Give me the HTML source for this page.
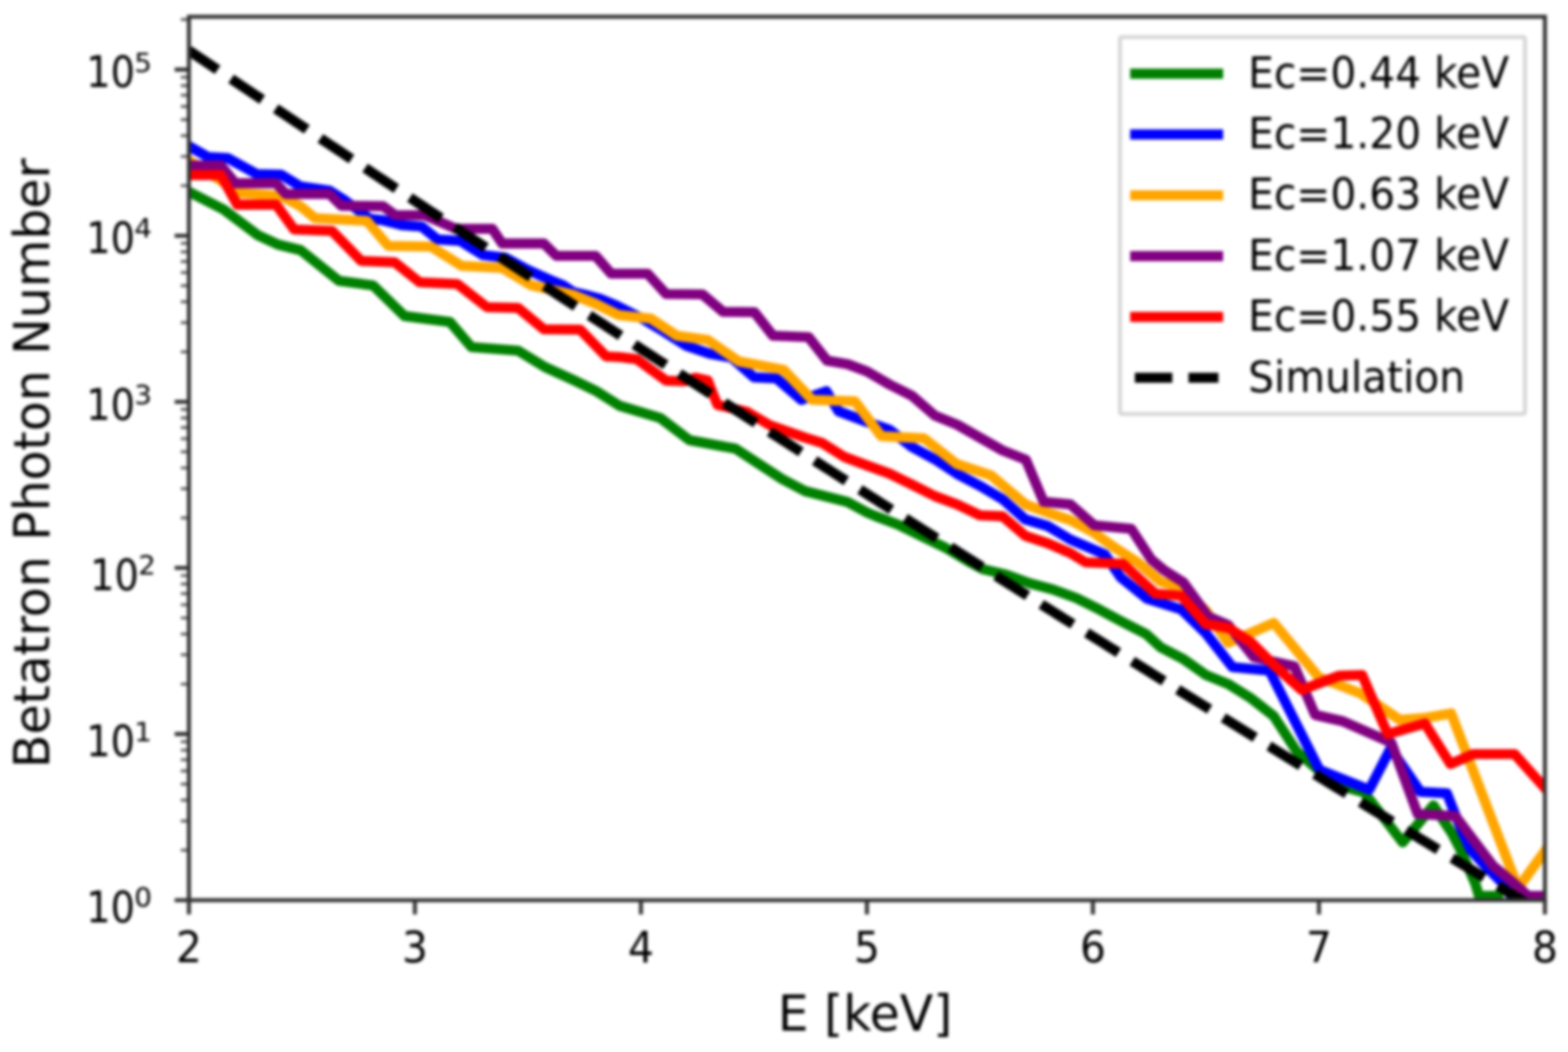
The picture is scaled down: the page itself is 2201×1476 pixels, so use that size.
<!DOCTYPE html>
<html><head><meta charset="utf-8"><title>Betatron Photon Number</title>
<style>html,body{margin:0;padding:0;background:#fff;width:2201px;height:1476px;overflow:hidden}svg{display:block;filter:blur(2px)}</style>
</head><body>
<svg width="2201" height="1476" viewBox="0 0 2201 1476">
<rect x="0" y="0" width="2201" height="1476" fill="#ffffff"/>
<defs><clipPath id="ax"><rect x="265.2" y="23.5" width="1903.3999999999999" height="1239.5"/></clipPath></defs>
<g clip-path="url(#ax)" fill="none" stroke-width="14.2" stroke-linejoin="round" stroke-linecap="square">
<polyline stroke="#008000" points="265.0,269.0 314.0,294.0 362.0,330.0 390.0,343.0 422.0,351.0 475.8,394.0 523.8,400.5 567.7,443.4 631.5,451.7 661.8,487.0 727.2,492.0 765.0,515.0 804.5,533.0 836.2,548.3 870.0,569.4 926.9,586.5 967.6,617.4 1032.6,629.6 1097.6,672.0 1130.0,689.0 1190.0,704.4 1216.9,719.0 1228.8,724.0 1261.3,736.3 1293.8,752.5 1326.3,768.0 1358.9,787.5 1380.0,798.7 1412.7,806.3 1445.4,818.3 1478.1,827.1 1510.9,839.1 1543.6,855.4 1576.3,872.9 1609.0,889.8 1629.3,908.3 1661.0,924.6 1692.7,947.0 1724.5,960.0 1756.2,979.8 1787.9,1004.6 1820.0,1054.0 1851.0,1081.0 1883.0,1103.0 1915.0,1112.0 1969.0,1182.0 2012.0,1130.0 2038.0,1169.0 2050.0,1192.0 2071.0,1240.0 2076.0,1257.0 2103.0,1257.0 2110.0,1340.0"/>
<polyline stroke="#0000ff" points="265.0,205.0 292.3,220.4 319.5,221.8 360.4,244.3 394.5,245.0 421.7,261.6 462.6,267.5 483.1,280.4 519.0,307.0 537.6,309.0 565.0,316.0 592.0,318.0 614.2,336.0 645.9,337.9 677.6,357.8 709.3,361.6 741.0,378.7 772.8,393.0 790.0,400.0 805.0,410.0 825.0,414.5 842.0,419.0 866.0,429.0 899.7,446.0 931.4,465.0 963.1,485.0 994.8,495.9 1026.6,501.7 1058.3,529.3 1090.0,531.0 1125.0,561.0 1160.0,549.0 1177.0,577.0 1216.9,592.0 1248.6,603.0 1280.3,627.3 1312.1,644.4 1343.8,665.1 1375.5,681.7 1407.2,700.3 1439.0,728.6 1470.7,738.1 1502.4,757.0 1551.0,778.0 1573.0,810.0 1610.0,840.0 1658.0,855.0 1693.0,889.0 1730.0,936.0 1782.0,941.0 1852.0,1080.0 1922.0,1108.0 1952.0,1050.0 1994.0,1111.0 2031.0,1113.0 2040.0,1136.0 2052.0,1166.0 2064.0,1192.0 2085.0,1215.0 2108.0,1238.0 2125.0,1263.0 2140.0,1290.0"/>
<polyline stroke="#ffa500" points="265.0,225.0 338.0,271.0 394.5,275.0 421.7,289.3 442.0,306.0 515.0,310.0 545.0,345.0 605.0,346.0 648.0,373.0 705.0,376.0 745.0,400.0 804.5,413.6 836.2,426.3 867.9,442.0 913.6,447.0 950.0,471.0 993.6,477.0 1037.0,507.0 1100.0,519.0 1140.0,561.0 1200.0,563.0 1237.0,612.0 1297.0,615.0 1343.0,651.0 1391.0,667.0 1440.0,708.0 1470.7,719.2 1502.4,729.7 1534.1,746.5 1565.8,769.1 1597.6,789.4 1629.2,816.0 1661.0,826.0 1693.0,857.0 1724.0,902.0 1788.0,874.0 1851.0,950.0 1910.0,973.0 1965.0,1010.0 2002.0,1007.0 2037.0,1001.0 2131.0,1246.0 2168.0,1195.0 2190.0,1160.0"/>
<polyline stroke="#800080" points="265.0,232.0 310.0,232.0 330.4,257.2 387.7,257.2 401.3,272.2 462.6,272.2 479.0,288.6 537.6,289.3 555.0,302.0 596.0,302.0 640.0,321.0 691.0,321.0 705.0,341.7 763.5,341.7 781.0,359.0 836.0,359.0 858.0,384.0 909.0,384.0 935.0,412.5 986.0,413.0 1015.0,437.5 1059.0,438.0 1085.0,471.0 1135.0,473.0 1161.0,506.0 1190.0,511.0 1216.9,521.2 1248.6,539.5 1280.3,555.4 1312.1,583.0 1343.8,596.0 1375.5,614.0 1407.2,632.0 1440.0,645.0 1465.0,704.0 1502.4,707.6 1536.0,737.0 1588.0,742.0 1616.0,785.0 1634.0,800.0 1661.0,817.0 1696.0,865.0 1724.0,877.0 1760.0,922.0 1817.0,935.0 1846.0,1003.0 1885.0,1012.0 1953.0,1042.0 1990.0,1142.0 2043.0,1145.0 2061.0,1169.0 2096.0,1215.0 2125.0,1239.0 2145.0,1257.0 2190.0,1257.0"/>
<polyline stroke="#ff0000" points="265.0,245.7 310.0,245.7 333.1,287.2 387.7,287.2 413.0,322.0 466.0,324.0 507.0,366.0 554.0,368.0 589.0,396.0 642.0,398.5 683.6,431.0 727.2,432.0 763.5,462.0 814.4,462.5 850.8,500.0 870.0,501.0 894.0,504.0 935.0,534.0 961.0,535.0 976.0,530.0 993.6,534.0 1007.0,568.0 1049.0,578.0 1081.4,597.0 1130.0,614.0 1154.0,621.5 1185.0,641.0 1216.9,653.0 1248.6,664.5 1280.3,680.0 1312.1,696.0 1343.8,707.8 1375.5,723.0 1407.2,724.4 1439.0,751.7 1470.7,762.2 1502.4,776.0 1524.0,789.0 1576.0,791.0 1622.0,833.0 1658.0,836.0 1692.7,875.8 1724.4,881.0 1756.1,901.0 1787.8,932.7 1827.0,968.0 1880.0,948.0 1912.0,947.0 1948.0,1030.0 2000.0,1015.0 2036.0,1072.0 2068.0,1058.0 2126.0,1058.0 2168.0,1105.0 2185.0,1125.0"/>
<polyline stroke="#000000" stroke-linecap="butt" stroke-dasharray="52.6 22.7" stroke-dashoffset="4.06" points="265.2,70.9 270.0,74.2 274.9,77.4 279.7,80.7 284.6,83.9 289.4,87.2 294.3,90.4 299.1,93.7 304.0,96.9 308.8,100.2 313.7,103.4 318.5,106.6 323.4,109.9 328.2,113.1 333.1,116.4 337.9,119.6 342.8,122.9 347.6,126.1 352.5,129.3 357.3,132.6 362.2,135.8 367.0,139.0 371.9,142.3 376.7,145.5 381.6,148.7 386.4,152.0 391.3,155.2 396.1,158.4 401.0,161.7 405.8,164.9 410.7,168.1 415.5,171.4 420.4,174.6 425.2,177.8 430.1,181.0 434.9,184.3 439.8,187.5 444.6,190.7 449.5,193.9 454.3,197.2 459.2,200.4 464.0,203.6 468.9,206.8 473.7,210.0 478.6,213.2 483.4,216.5 488.3,219.7 493.1,222.9 498.0,226.1 502.8,229.3 507.7,232.5 512.5,235.7 517.4,238.9 522.2,242.2 527.1,245.4 531.9,248.6 536.8,251.8 541.6,255.0 546.4,258.2 551.3,261.4 556.1,264.6 561.0,267.8 565.8,271.0 570.7,274.2 575.5,277.4 580.4,280.6 585.2,283.8 590.1,287.0 594.9,290.2 599.8,293.4 604.6,296.6 609.5,299.8 614.3,303.0 619.2,306.2 624.0,309.4 628.9,312.5 633.7,315.7 638.6,318.9 643.4,322.1 648.3,325.3 653.1,328.5 658.0,331.7 662.8,334.9 667.7,338.0 672.5,341.2 677.4,344.4 682.2,347.6 687.1,350.8 691.9,353.9 696.8,357.1 701.6,360.3 706.5,363.5 711.3,366.7 716.2,369.8 721.0,373.0 725.9,376.2 730.7,379.4 735.6,382.5 740.4,385.7 745.3,388.9 750.1,392.0 755.0,395.2 759.8,398.4 764.7,401.5 769.5,404.7 774.4,407.9 779.2,411.0 784.1,414.2 788.9,417.4 793.8,420.5 798.6,423.7 803.5,426.8 808.3,430.0 813.2,433.2 818.0,436.3 822.8,439.5 827.7,442.6 832.5,445.8 837.4,448.9 842.2,452.1 847.1,455.2 851.9,458.4 856.8,461.5 861.6,464.7 866.5,467.8 871.3,471.0 876.2,474.1 881.0,477.3 885.9,480.4 890.7,483.6 895.6,486.7 900.4,489.9 905.3,493.0 910.1,496.1 915.0,499.3 919.8,502.4 924.7,505.6 929.5,508.7 934.4,511.8 939.2,515.0 944.1,518.1 948.9,521.2 953.8,524.4 958.6,527.5 963.5,530.6 968.3,533.8 973.2,536.9 978.0,540.0 982.9,543.2 987.7,546.3 992.6,549.4 997.4,552.5 1002.3,555.7 1007.1,558.8 1012.0,561.9 1016.8,565.0 1021.7,568.2 1026.5,571.3 1031.4,574.4 1036.2,577.5 1041.1,580.6 1045.9,583.8 1050.8,586.9 1055.6,590.0 1060.5,593.1 1065.3,596.2 1070.2,599.3 1075.0,602.4 1079.9,605.6 1084.7,608.7 1089.6,611.8 1094.4,614.9 1099.2,618.0 1104.1,621.1 1108.9,624.2 1113.8,627.3 1118.6,630.4 1123.5,633.5 1128.3,636.6 1133.2,639.7 1138.0,642.8 1142.9,645.9 1147.7,649.0 1152.6,652.1 1157.4,655.2 1162.3,658.3 1167.1,661.4 1172.0,664.5 1176.8,667.6 1181.7,670.7 1186.5,673.8 1191.4,676.9 1196.2,680.0 1201.1,683.1 1205.9,686.2 1210.8,689.2 1215.6,692.3 1220.5,695.4 1225.3,698.5 1230.2,701.6 1235.0,704.7 1239.9,707.8 1244.7,710.8 1249.6,713.9 1254.4,717.0 1259.3,720.1 1264.1,723.2 1269.0,726.2 1273.8,729.3 1278.7,732.4 1283.5,735.5 1288.4,738.5 1293.2,741.6 1298.1,744.7 1302.9,747.8 1307.8,750.8 1312.6,753.9 1317.5,757.0 1322.3,760.0 1327.2,763.1 1332.0,766.2 1336.9,769.3 1341.7,772.3 1346.6,775.4 1351.4,778.4 1356.3,781.5 1361.1,784.6 1366.0,787.6 1370.8,790.7 1375.6,793.8 1380.5,796.8 1385.3,799.9 1390.2,802.9 1395.0,806.0 1399.9,809.0 1404.7,812.1 1409.6,815.1 1414.4,818.2 1419.3,821.3 1424.1,824.3 1429.0,827.4 1433.8,830.4 1438.7,833.5 1443.5,836.5 1448.4,839.5 1453.2,842.6 1458.1,845.6 1462.9,848.7 1467.8,851.7 1472.6,854.8 1477.5,857.8 1482.3,860.9 1487.2,863.9 1492.0,866.9 1496.9,870.0 1501.7,873.0 1506.6,876.0 1511.4,879.1 1516.3,882.1 1521.1,885.2 1526.0,888.2 1530.8,891.2 1535.7,894.2 1540.5,897.3 1545.4,900.3 1550.2,903.3 1555.1,906.4 1559.9,909.4 1564.8,912.4 1569.6,915.4 1574.5,918.5 1579.3,921.5 1584.2,924.5 1589.0,927.5 1593.9,930.6 1598.7,933.6 1603.6,936.6 1608.4,939.6 1613.3,942.6 1618.1,945.7 1623.0,948.7 1627.8,951.7 1632.7,954.7 1637.5,957.7 1642.4,960.7 1647.2,963.7 1652.0,966.8 1656.9,969.8 1661.7,972.8 1666.6,975.8 1671.4,978.8 1676.3,981.8 1681.1,984.8 1686.0,987.8 1690.8,990.8 1695.7,993.8 1700.5,996.8 1705.4,999.8 1710.2,1002.8 1715.1,1005.8 1719.9,1008.8 1724.8,1011.8 1729.6,1014.8 1734.5,1017.8 1739.3,1020.8 1744.2,1023.8 1749.0,1026.8 1753.9,1029.8 1758.7,1032.8 1763.6,1035.8 1768.4,1038.8 1773.3,1041.8 1778.1,1044.8 1783.0,1047.7 1787.8,1050.7 1792.7,1053.7 1797.5,1056.7 1802.4,1059.7 1807.2,1062.7 1812.1,1065.7 1816.9,1068.6 1821.8,1071.6 1826.6,1074.6 1831.5,1077.6 1836.3,1080.6 1841.2,1083.5 1846.0,1086.5 1850.9,1089.5 1855.7,1092.5 1860.6,1095.4 1865.4,1098.4 1870.3,1101.4 1875.1,1104.4 1880.0,1107.3 1884.8,1110.3 1889.7,1113.3 1894.5,1116.2 1899.4,1119.2 1904.2,1122.2 1909.1,1125.1 1913.9,1128.1 1918.8,1131.1 1923.6,1134.0 1928.4,1137.0 1933.3,1140.0 1938.1,1142.9 1943.0,1145.9 1947.8,1148.8 1952.7,1151.8 1957.5,1154.8 1962.4,1157.7 1967.2,1160.7 1972.1,1163.6 1976.9,1166.6 1981.8,1169.5 1986.6,1172.5 1991.5,1175.4 1996.3,1178.4 2001.2,1181.3 2006.0,1184.3 2010.9,1187.2 2015.7,1190.2 2020.6,1193.1 2025.4,1196.1 2030.3,1199.0 2035.1,1202.0 2040.0,1204.9 2044.8,1207.9 2049.7,1210.8 2054.5,1213.7 2059.4,1216.7 2064.2,1219.6 2069.1,1222.6 2073.9,1225.5 2078.8,1228.4 2083.6,1231.4 2088.5,1234.3 2093.3,1237.2 2098.2,1240.2 2103.0,1243.1 2107.9,1246.0 2112.7,1249.0 2117.6,1251.9 2122.4,1254.8 2127.3,1257.8 2132.1,1260.7 2137.0,1263.6 2141.8,1266.5 2146.7,1269.5 2151.5,1272.4 2156.4,1275.3 2161.2,1278.2 2166.1,1281.1 2170.9,1284.1 2175.8,1287.0 2180.6,1289.9 2185.5,1292.8 2190.3,1295.7 2195.2,1298.7 2200.0,1301.6"/>
</g>
<path d="M265.2,1192.8H253.8 M265.2,1151.8H253.8 M265.2,1122.7H253.8 M265.2,1100.1H253.8 M265.2,1081.6H253.8 M265.2,1066.0H253.8 M265.2,1052.5H253.8 M265.2,1040.6H253.8 M265.2,959.8H253.8 M265.2,918.7H253.8 M265.2,889.6H253.8 M265.2,867.0H253.8 M265.2,848.5H253.8 M265.2,832.9H253.8 M265.2,819.4H253.8 M265.2,807.5H253.8 M265.2,726.7H253.8 M265.2,685.6H253.8 M265.2,656.5H253.8 M265.2,633.9H253.8 M265.2,615.5H253.8 M265.2,599.9H253.8 M265.2,586.3H253.8 M265.2,574.4H253.8 M265.2,493.6H253.8 M265.2,452.6H253.8 M265.2,423.4H253.8 M265.2,400.8H253.8 M265.2,382.4H253.8 M265.2,366.8H253.8 M265.2,353.3H253.8 M265.2,341.3H253.8 M265.2,260.5H253.8 M265.2,219.5H253.8 M265.2,190.4H253.8 M265.2,167.8H253.8 M265.2,149.3H253.8 M265.2,133.7H253.8 M265.2,120.2H253.8 M265.2,108.3H253.8 M265.2,27.4H253.8" stroke="#666666" stroke-width="4.2" fill="none"/>
<path d="M265.2,1263.0V1283.0 M582.4,1263.0V1283.0 M899.7,1263.0V1283.0 M1216.9,1263.0V1283.0 M1534.1,1263.0V1283.0 M1851.4,1263.0V1283.0 M2168.6,1263.0V1283.0 M265.2,1263.0H245.2 M265.2,1029.9H245.2 M265.2,796.8H245.2 M265.2,563.8H245.2 M265.2,330.7H245.2 M265.2,97.6H245.2" stroke="#333333" stroke-width="5.6" fill="none"/>
<rect x="265.2" y="23.5" width="1903.4" height="1239.5" fill="none" stroke="#333333" stroke-width="5.6" stroke-linejoin="miter"/>
<rect x="1572.1" y="52.0" width="568.5" height="528.8" rx="2.5" ry="2.5" fill="#ffffff" fill-opacity="0.8" stroke="#d6d6d6" stroke-width="5.6"/>
<line x1="1593.5" y1="103.3" x2="1709.8" y2="103.3" stroke="#008000" stroke-width="14.2" stroke-linecap="square"/>
<line x1="1593.5" y1="188.6" x2="1709.8" y2="188.6" stroke="#0000ff" stroke-width="14.2" stroke-linecap="square"/>
<line x1="1593.5" y1="274.0" x2="1709.8" y2="274.0" stroke="#ffa500" stroke-width="14.2" stroke-linecap="square"/>
<line x1="1593.5" y1="359.3" x2="1709.8" y2="359.3" stroke="#800080" stroke-width="14.2" stroke-linecap="square"/>
<line x1="1593.5" y1="444.7" x2="1709.8" y2="444.7" stroke="#ff0000" stroke-width="14.2" stroke-linecap="square"/>
<line x1="1593.0" y1="530.0" x2="1710.3" y2="530.0" stroke="#000000" stroke-width="14.2" stroke-linecap="butt" stroke-dasharray="52.6 22.7"/>
<g font-family="'DejaVu Sans', 'Liberation Sans', sans-serif" fill="#000000"><text transform="translate(265.2,1350.4) scale(1,1.07)" font-size="57.2" text-anchor="middle" >2</text><text transform="translate(582.4,1350.4) scale(1,1.07)" font-size="57.2" text-anchor="middle" >3</text><text transform="translate(899.7,1350.4) scale(1,1.07)" font-size="57.2" text-anchor="middle" >4</text><text transform="translate(1216.9,1350.4) scale(1,1.07)" font-size="57.2" text-anchor="middle" >5</text><text transform="translate(1534.1,1350.4) scale(1,1.07)" font-size="57.2" text-anchor="middle" >6</text><text transform="translate(1851.4,1350.4) scale(1,1.07)" font-size="57.2" text-anchor="middle" >7</text><text transform="translate(2168.6,1350.4) scale(1,1.07)" font-size="57.2" text-anchor="middle" >8</text><text transform="translate(121.0,1293.9) scale(0.94,1.07)" font-size="57.2">10</text><text transform="translate(188.5,1272.4) scale(1,0.97)" font-size="38.89600000000001" text-anchor="start" >0</text><text transform="translate(121.0,1061.0) scale(0.94,1.07)" font-size="57.2">10</text><text transform="translate(188.5,1039.5) scale(1,0.97)" font-size="38.89600000000001" text-anchor="start" >1</text><text transform="translate(126.5,827.7) scale(0.94,1.07)" font-size="57.2">10</text><text transform="translate(194.0,806.2) scale(1,0.97)" font-size="38.89600000000001" text-anchor="start" >2</text><text transform="translate(121.0,588.7) scale(0.94,1.07)" font-size="57.2">10</text><text transform="translate(188.5,567.2) scale(1,0.97)" font-size="38.89600000000001" text-anchor="start" >3</text><text transform="translate(121.0,354.7) scale(0.94,1.07)" font-size="57.2">10</text><text transform="translate(188.5,333.2) scale(1,0.97)" font-size="38.89600000000001" text-anchor="start" >4</text><text transform="translate(121.0,122.0) scale(0.94,1.07)" font-size="57.2">10</text><text transform="translate(188.5,100.5) scale(1,0.97)" font-size="38.89600000000001" text-anchor="start" >5</text><text transform="translate(1214.2,1445.5) scale(1,1.02)" font-size="68.6" text-anchor="middle" >E [keV]</text><text transform="translate(69,650) rotate(-90) scale(1,1.02)" font-size="68.6" text-anchor="middle">Betatron Photon Number</text><text transform="translate(1752.0,122.7) scale(1,1.07)" font-size="57.2" text-anchor="start" >Ec=0.44 keV</text><text transform="translate(1752.0,208.1) scale(1,1.07)" font-size="57.2" text-anchor="start" >Ec=1.20 keV</text><text transform="translate(1752.0,293.4) scale(1,1.07)" font-size="57.2" text-anchor="start" >Ec=0.63 keV</text><text transform="translate(1752.0,378.7) scale(1,1.07)" font-size="57.2" text-anchor="start" >Ec=1.07 keV</text><text transform="translate(1752.0,464.1) scale(1,1.07)" font-size="57.2" text-anchor="start" >Ec=0.55 keV</text><text transform="translate(1752.0,549.5) scale(1,1.07)" font-size="57.2" text-anchor="start" >Simulation</text></g>
</svg>
</body></html>
